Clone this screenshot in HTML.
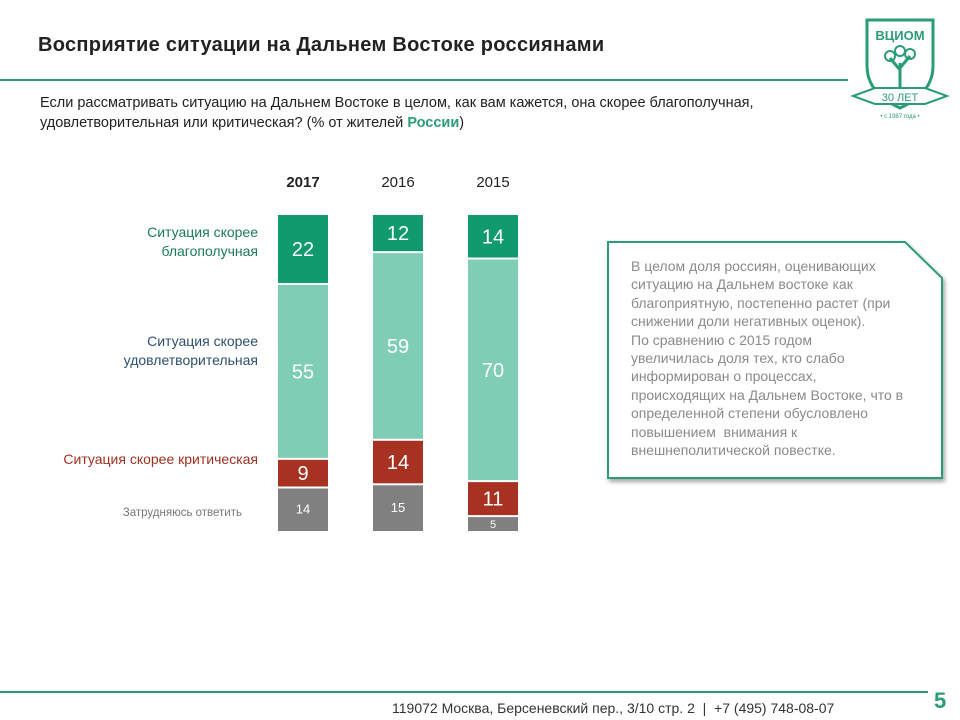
<!DOCTYPE html>
<html><head><meta charset="utf-8"><style>
body{margin:0;width:960px;height:720px;position:relative;background:#fff;font-family:"Liberation Sans",sans-serif;overflow:hidden}
.abs{position:absolute}
.lbl{position:absolute;text-align:right;font-size:14px;line-height:19px}
</style></head><body>
<div class="abs" style="left:38px;top:34px;font-size:20px;font-weight:bold;color:#222;letter-spacing:0.3px">Восприятие ситуации на Дальнем Востоке россиянами</div>
<div class="abs" style="left:0;top:79px;width:848px;height:2px;background:#2a9d78"></div>
<svg class="abs" style="left:845px;top:8px" width="110" height="115" viewBox="0 0 110 115">
<path d="M22 12 H88 V58 Q88 85 55 100 Q22 85 22 58 Z" fill="none" stroke="#2a9d78" stroke-width="3"/>
<text x="55" y="32" font-size="13" font-weight="bold" fill="#2a9d78" text-anchor="middle" font-family="Liberation Sans">ВЦИОМ</text>
<path d="M55 80 V55 M55 62 L45 50 M55 60 L65 48" stroke="#2a9d78" stroke-width="3" fill="none"/>
<circle cx="45" cy="48" r="5" fill="none" stroke="#2a9d78" stroke-width="2"/>
<circle cx="65" cy="46" r="5" fill="none" stroke="#2a9d78" stroke-width="2"/>
<circle cx="55" cy="43" r="5" fill="none" stroke="#2a9d78" stroke-width="2"/>
<path d="M8 88 L30 80 H80 L102 88 L80 96 H30 Z" fill="#fff" stroke="#2a9d78" stroke-width="2"/>
<text x="55" y="93" font-size="11" fill="#2a9d78" text-anchor="middle" font-family="Liberation Sans">30 ЛЕТ</text>
<text x="55" y="110" font-size="6" fill="#2a9d78" text-anchor="middle" font-family="Liberation Sans">• с 1987 года •</text>
</svg>
<div class="abs" style="left:40px;top:93px;width:780px;font-size:14.5px;line-height:20px;color:#222">Если рассматривать ситуацию на Дальнем Востоке в целом, как вам кажется, она скорее благополучная, удовлетворительная или критическая? (% от жителей <b style="color:#2a9d78">России</b>)</div>

<div class="lbl" style="left:60px;top:223px;width:198px;color:#1a7a5a">Ситуация скорее<br>благополучная</div>
<div class="lbl" style="left:60px;top:332px;width:198px;color:#2f4f6f">Ситуация скорее<br>удовлетворительная</div>
<div class="lbl" style="left:10px;top:450px;width:248px;color:#a03020">Ситуация скорее критическая</div>
<div class="lbl" style="left:60px;top:504px;width:182px;font-size:11.5px;color:#777">Затрудняюсь ответить</div>

<svg id="chart" class="abs" style="left:0;top:0" width="960" height="720"></svg>

<svg class="abs" style="left:600px;top:236px" width="355" height="255">
<defs><filter id="sh"><feDropShadow dx="2" dy="3" stdDeviation="2" flood-color="#000" flood-opacity="0.35"/></filter></defs>
<path d="M8 6 H305 L342 42 V242 H8 Z" fill="#fff" stroke="#2a9d78" stroke-width="2" filter="url(#sh)"/>
</svg>
<div class="abs" style="left:631px;top:257px;width:300px;white-space:nowrap;font-size:14px;line-height:18.4px;color:#8a8a8a">В целом доля россиян, оценивающих<br>ситуацию на Дальнем востоке как<br>благоприятную, постепенно растет (при<br>снижении доли негативных оценок).<br>По сравнению с 2015 годом<br>увеличилась доля тех, кто слабо<br>информирован о процессах,<br>происходящих на Дальнем Востоке, что в<br>определенной степени обусловлено<br>повышением&nbsp; внимания к<br>внешнеполитической повестке.</div>

<div class="abs" style="left:0;top:691px;width:928px;height:2px;background:#2a9d78"></div>
<div class="abs" style="left:392px;top:700px;font-size:14px;color:#333">119072 Москва, Берсеневский пер., 3/10 стр. 2&nbsp; |&nbsp; +7 (495) 748-08-07</div>
<div class="abs" style="left:934px;top:688px;font-size:22px;font-weight:bold;color:#2a9d78">5</div>

<script>
const years = ["2017","2016","2015"];
const favorable = [22,12,14];
const satisfactory = [55,59,70];
const critical = [9,14,11];
const dontKnow = [14,15,5];
const series=[favorable,satisfactory,critical,dontKnow];
const colors=["#119a6e","#80cdb6","#a83222","#808080"];
const svg=document.getElementById('chart');
const NS="http://www.w3.org/2000/svg";
const top0=215, bottom0=533, x0=278, step=95, bw=50;
function y(v){return top0+(bottom0-top0)*v/100;}
years.forEach((yr,i)=>{
  const cx=x0+i*step+bw/2;
  const t=document.createElementNS(NS,'text');
  
  
  t.setAttribute('x',cx);t.setAttribute('y',187);t.setAttribute('text-anchor','middle');
  t.setAttribute('font-size','15');t.setAttribute('fill','#222');
  if(i===0)t.setAttribute('font-weight','bold');
  t.textContent=yr;svg.appendChild(t);
  let acc=0;
  series.forEach((s,k)=>{
    const v=s[i];
    const y1=y(acc), y2=y(acc+v);
    const r=document.createElementNS(NS,'rect');
    
    
    r.setAttribute('x',x0+i*step);r.setAttribute('y',y1);
    r.setAttribute('width',bw);r.setAttribute('height',Math.max(0,y2-y1-2));
    r.setAttribute('fill',colors[k]);svg.appendChild(r);
    const l=document.createElementNS(NS,'text');
    
    
    const small=k===3;
    l.setAttribute('x',cx);l.setAttribute('y',(y1+y2-2)/2+(small?4:7));
    l.setAttribute('text-anchor','middle');l.setAttribute('fill','#fff');
    l.setAttribute('font-size',small?(v<8?'11':'13'):'20');
    l.textContent=v;svg.appendChild(l);
    acc+=v;
  });
});
</script>
</body></html>
